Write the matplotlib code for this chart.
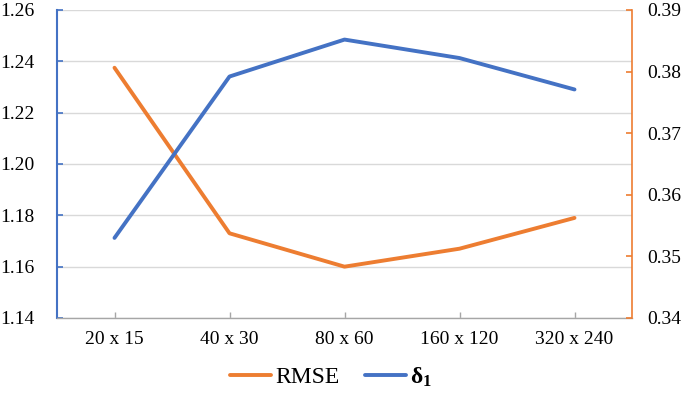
import matplotlib
matplotlib.use("Agg")
import matplotlib.pyplot as plt

categories = ["20 x 15", "40 x 30", "80 x 60", "160 x 120", "320 x 240"]
rmse = [1.2375, 1.173, 1.160, 1.167, 1.179]
delta1 = [0.3530, 0.3792, 0.3852, 0.3822, 0.3771]
left_ticks = [1.14, 1.16, 1.18, 1.20, 1.22, 1.24, 1.26]
right_ticks = [0.34, 0.35, 0.36, 0.37, 0.38, 0.39]

ORANGE = "#ED7D31"
BLUE = "#4472C4"
GRID = "#D9D9D9"
AXIS_GRAY = "#A6A6A6"

plt.rcParams["font.family"] = ["Liberation Serif", "DejaVu Serif"]
plt.rcParams["mathtext.fontset"] = "custom"
plt.rcParams["mathtext.rm"] = "Liberation Serif"
plt.rcParams["mathtext.it"] = "Liberation Serif:italic"
plt.rcParams["mathtext.bf"] = "Liberation Serif:bold"

fig = plt.figure(figsize=(6.85, 3.93), dpi=100)
ax = fig.add_axes([57/685, 1-318/393, (632-57)/685, (318-10)/393])
ax2 = ax.twinx()

x = list(range(len(categories)))
l1, = ax.plot(x, rmse, color=ORANGE, lw=2.8, solid_capstyle="round", label="RMSE", zorder=3)
l2, = ax2.plot(x, delta1, color=BLUE, lw=2.8, solid_capstyle="round", label=r"$\mathbf{\delta_1}$", zorder=3)

ax.set_xlim(-0.5, len(categories) - 0.5)
ax.set_ylim(1.14, 1.26)
ax.set_yticks(left_ticks)
ax.set_yticklabels([f"{v:.2f}" for v in left_ticks])
ax2.set_ylim(0.34, 0.39)
ax2.set_yticks(right_ticks)
ax2.set_yticklabels([f"{v:.2f}" for v in right_ticks])
ax.set_xticks(x)
ax.set_xticklabels(categories)

ax.grid(axis="y", color=GRID, lw=1.0, zorder=0)
ax.set_axisbelow(True)

for a in (ax, ax2):
    a.spines["top"].set_visible(False)
ax.spines["left"].set_color(BLUE)
ax.spines["left"].set_linewidth(1.5)
ax.spines["right"].set_visible(False)
ax2.spines["left"].set_visible(False)
ax2.spines["bottom"].set_visible(False)
ax2.spines["right"].set_color(ORANGE)
ax2.spines["right"].set_linewidth(1.2)
ax.spines["bottom"].set_color(AXIS_GRAY)
ax.spines["bottom"].set_linewidth(1.0)

ax.tick_params(axis="y", direction="in", length=4, width=1.2, color=BLUE,
               labelsize=14, pad=16, labelcolor="black")
ax2.tick_params(axis="y", direction="in", length=4, width=1.2, color=ORANGE,
                labelsize=14, pad=11, labelcolor="black")
ax.tick_params(axis="x", direction="in", length=4, width=1.0, color=AXIS_GRAY,
               labelsize=14, pad=9)

fig.legend(handles=[l1, l2], loc="center", bbox_to_anchor=(331/685, 1-377/393),
           ncol=2, frameon=False, fontsize=17, handlelength=1.75,
           handletextpad=0.15, columnspacing=1.1, borderpad=0, borderaxespad=0)

fig.savefig("out.png", dpi=100)
